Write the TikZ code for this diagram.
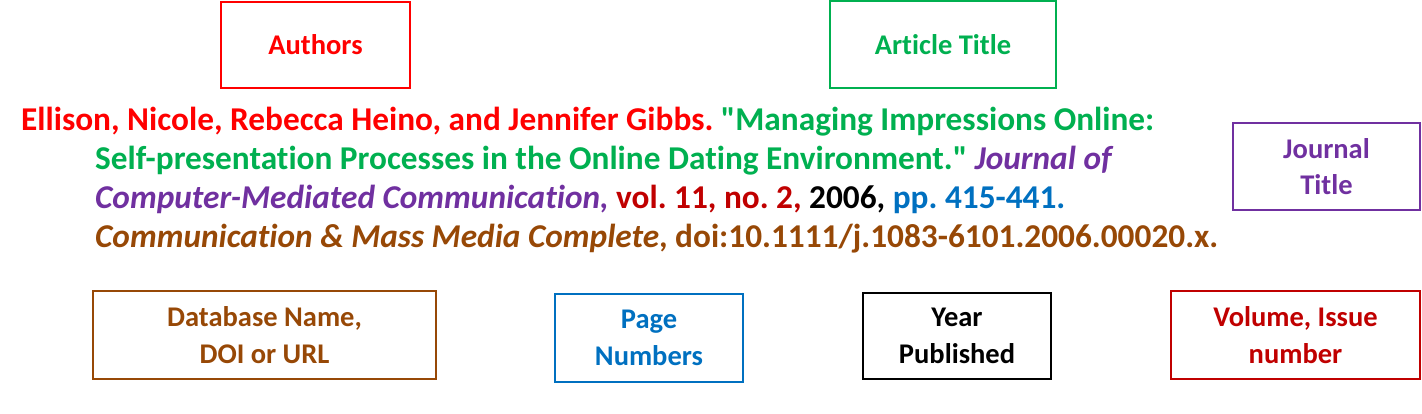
\documentclass[tikz,border=0pt]{standalone}
\usepackage{fontspec}
\setmainfont{Carlito}[Ligatures=CommonOff]
\usepackage{tikz}

\definecolor{authorred}{HTML}{FF0000}
\definecolor{titlegreen}{HTML}{00B050}
\definecolor{journalpurple}{HTML}{7030A0}
\definecolor{volred}{HTML}{C00000}
\definecolor{pageblue}{HTML}{0070C0}
\definecolor{dbbrown}{HTML}{974806}

\begin{document}
\frenchspacing
\begin{tikzpicture}[x=1pt, y=-1pt,
  tag/.style={draw, line width=1.6pt, align=center, inner sep=0pt,
    font=\fontsize{28.5}{36.5}\selectfont\bfseries},
  cite/.style={anchor=base west, inner sep=0pt,
    font=\fontsize{33.3}{39}\selectfont\bfseries}]
\useasboundingbox (0,0) rectangle (1422,413);
% Define the boxes
\node[tag, authorred, minimum width=189pt, minimum height=86pt] at (315.5,45) (authors) {Authors};
\node[tag, titlegreen, minimum width=226pt, minimum height=87pt] at (943,44.5) (article) {Article Title};
\node[tag, journalpurple, minimum width=187pt, minimum height=87pt] at (1326.5,166.5) (journal) {Journal\\Title};
\node[tag, dbbrown, minimum width=343pt, minimum height=88pt] at (264.5,335) (database) {Database Name,\\DOI or URL};
\node[tag, pageblue, minimum width=188pt, minimum height=88pt] at (649,338) (pages) {Page\\Numbers};
\node[tag, black, minimum width=188pt, minimum height=86pt] at (957,336) (year) {Year\\Published};
\node[tag, volred, minimum width=249pt, minimum height=88pt] at (1295.5,335) (volume) {Volume, Issue\\number};
% The citation, line by line
\node[cite] at (21,130) (line1) {\textcolor{authorred}{Ellison, Nicole, Rebecca Heino, and Jennifer Gibbs.} \textcolor{titlegreen}{\textquotedbl Managing Impressions Online:}};
\node[cite] at (95,169) (line2) {\textcolor{titlegreen}{Self-presentation Processes in the Online Dating Environment.\textquotedbl} \textcolor{journalpurple}{\itshape Journal of}};
\node[cite] at (95,208) (line3) {\textcolor{journalpurple}{\itshape Computer-Mediated Communication,} \textcolor{volred}{vol. 11, no. 2,} 2006, \textcolor{pageblue}{pp. 415-441.}};
\node[cite] at (95,247) (line4) {\textcolor{dbbrown}{\itshape Communication \& Mass Media Complete}\textcolor{dbbrown}{, doi:10.1111/j.1083-6101.2006.00020.x.}};
\end{tikzpicture}
\end{document}
